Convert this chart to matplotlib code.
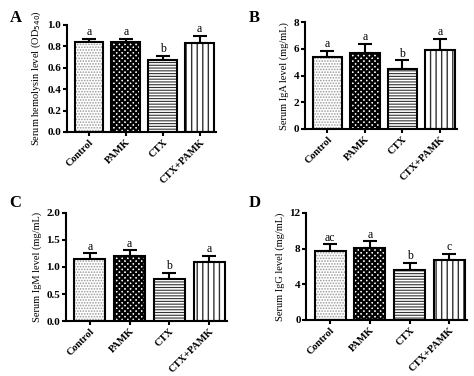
import numpy as np
import matplotlib.pyplot as plt
from matplotlib.colors import to_rgba

plt.rcParams['font.family'] = ['Liberation Serif', 'DejaVu Serif']
plt.rcParams['hatch.linewidth'] = 0.8

groups = ['Control', 'PAMK', 'CTX', 'CTX+PAMK']

hemolysin = [0.84, 0.835, 0.675, 0.83]
hemolysin_err = [0.03, 0.035, 0.035, 0.07]
hemolysin_sig = ['a', 'a', 'b', 'a']

iga = [5.4, 5.7, 4.5, 5.9]
iga_err = [0.45, 0.7, 0.65, 0.85]
iga_sig = ['a', 'a', 'b', 'a']

igm = [1.14, 1.2, 0.77, 1.1]
igm_err = [0.11, 0.11, 0.12, 0.11]
igm_sig = ['a', 'a', 'b', 'a']

igg = [7.75, 8.05, 5.6, 6.75]
igg_err = [0.75, 0.75, 0.8, 0.65]
igg_sig = ['ac', 'a', 'b', 'c']

hatches = ['......', 'xxxxxx', '------', '|||']
hatch_cols = ['#999999', 'black', '#333333', '#333333']
hatch_lw = [0.8, 1.6, 0.8, 1.0]


def panel(ax, vals, errs, sig, ymax, yticks, ytl, ylabel, letter, lx, ly):
    x = np.arange(len(groups))
    bars = ax.bar(x, vals, width=0.78, color='white', edgecolor='black',
                  linewidth=1.5, zorder=2)
    for b, h, c, lw in zip(bars, hatches, hatch_cols, hatch_lw):
        b.set_hatch(h)
        b._hatch_color = to_rgba(c)
        try:
            b.set_hatch_linewidth(lw)
        except AttributeError:
            pass
    ax.errorbar(x, vals, yerr=[np.zeros(4), errs], fmt='none', ecolor='black',
                elinewidth=1.5, capsize=5, capthick=1.5, zorder=1)
    for xi, v, e, s in zip(x, vals, errs, sig):
        ax.text(xi, v + e + ymax * 0.005, s, ha='center', va='bottom', fontsize=8.5)
    ax.set_ylim(0, ymax)
    ax.set_xlim(-0.6, 3.45)
    ax.set_yticks(yticks)
    ax.set_yticklabels(ytl, fontweight='bold', fontsize=8)
    ax.set_xticks(x)
    ax.set_xticklabels(groups, rotation=45, ha='right', rotation_mode='anchor',
                       fontweight='bold', fontsize=7.5)
    ax.spines['top'].set_visible(False)
    ax.spines['right'].set_visible(False)
    ax.spines['left'].set_linewidth(1.5)
    ax.spines['bottom'].set_linewidth(1.5)
    ax.tick_params(width=1.5, length=3, pad=1)
    ax.set_ylabel(ylabel, fontsize=7.5, labelpad=3)
    ax.figure.text(lx, ly, letter, fontsize=12, fontweight='bold',
                   ha='left', va='center')


fig = plt.figure(figsize=(4.74, 3.76), dpi=100)
axA = fig.add_axes([0.141, 0.649, 0.315, 0.285])
axB = fig.add_axes([0.643, 0.657, 0.321, 0.284])
axC = fig.add_axes([0.139, 0.146, 0.340, 0.288])
axD = fig.add_axes([0.646, 0.149, 0.340, 0.285])

panel(axA, hemolysin, hemolysin_err, hemolysin_sig, 1.0, [0, 0.2, 0.4, 0.6, 0.8, 1.0],
      ['0.0', '0.2', '0.4', '0.6', '0.8', '1.0'],
      'Serum hemolysin level (OD$_{540}$)', 'A', 0.02, 0.953)
panel(axB, iga, iga_err, iga_sig, 8, [0, 2, 4, 6, 8], ['0', '2', '4', '6', '8'],
      'Serum IgA level (mg/mL)', 'B', 0.525, 0.953)
panel(axC, igm, igm_err, igm_sig, 2.0, [0, 0.5, 1.0, 1.5, 2.0],
      ['0.0', '0.5', '1.0', '1.5', '2.0'],
      'Serum IgM level (mg/mL)', 'C', 0.02, 0.46)
panel(axD, igg, igg_err, igg_sig, 12, [0, 4, 8, 12], ['0', '4', '8', '12'],
      'Serum IgG level (mg/mL)', 'D', 0.525, 0.46)

fig.savefig('out.png', dpi=100)
